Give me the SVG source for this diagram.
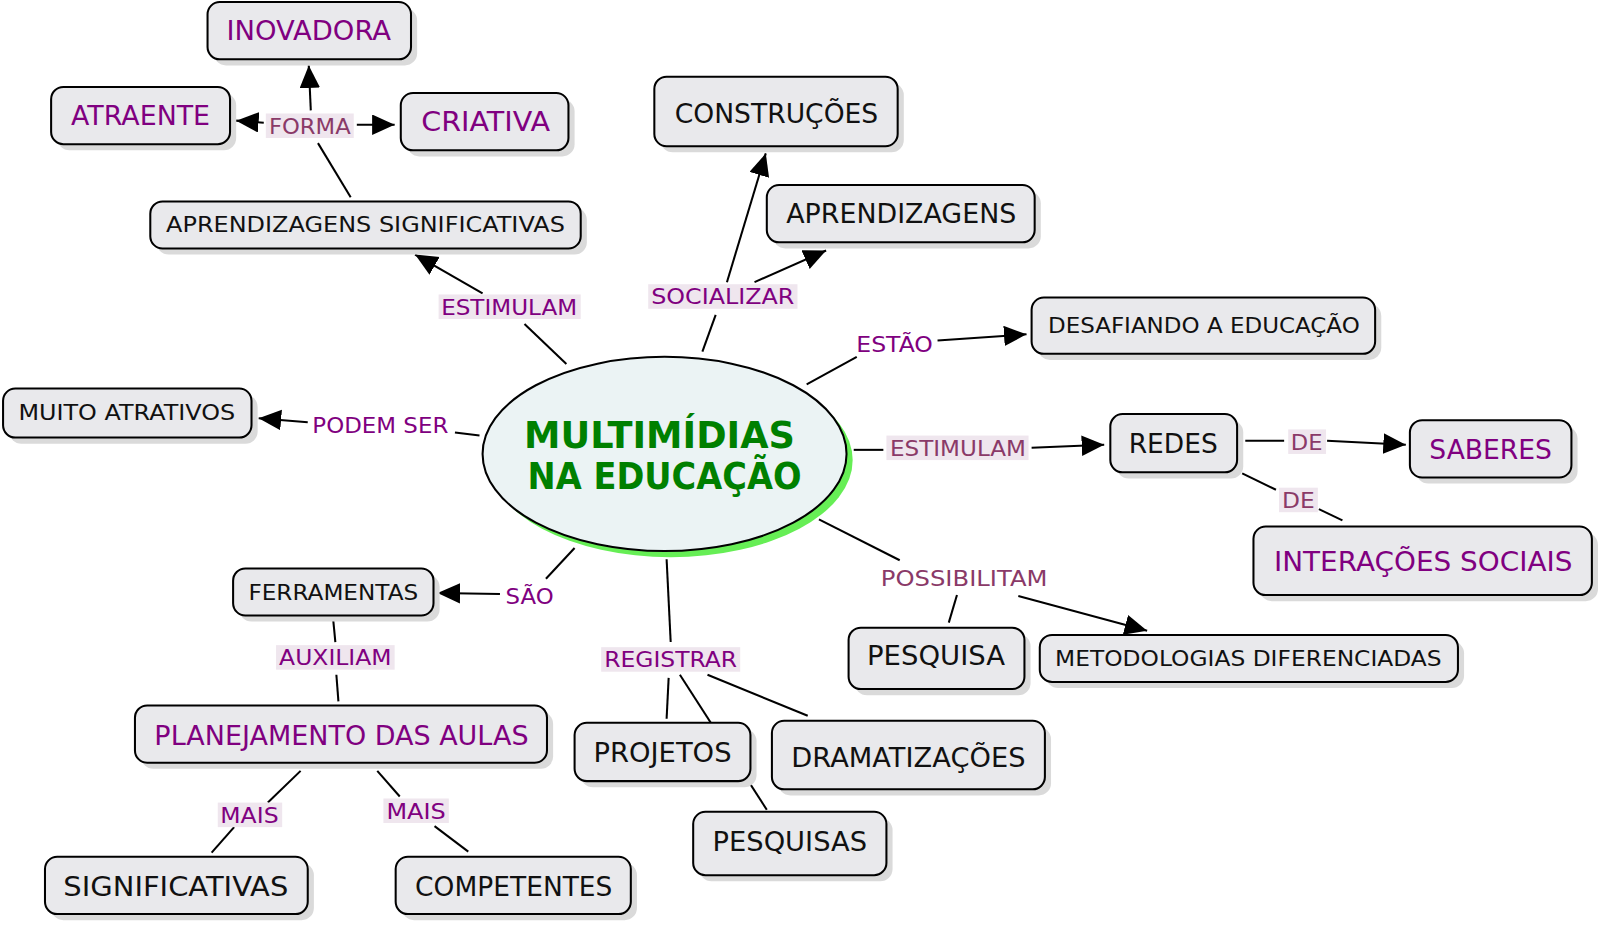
<svg xmlns="http://www.w3.org/2000/svg" width="1600" height="925" viewBox="0 0 1600 925">
<defs>
<marker id="arr" markerUnits="userSpaceOnUse" markerWidth="24" markerHeight="22" refX="22" refY="10" orient="auto"><path d="M0,0 L22,10 L0,20 z" fill="#000"/></marker>
<style>
.box{fill:#e9e9ec;stroke:#000;stroke-width:2}
.sh{fill:#dadada}
.t{font-family:"DejaVu Sans","Verdana",sans-serif;text-anchor:middle}
.big{font-size:26px}
.sm{font-size:21px}
.blk{fill:#111}
.pur{fill:#800080}
.mar{fill:#8a3a68}
.lbl{font-size:21px}
.lbg{fill:#efe6ee}
.ln{stroke:#000;stroke-width:2;fill:none}
.ar{marker-end:url(#arr)}
</style>
</defs>
<rect width="1600" height="925" fill="#fff"/>
<g transform="scale(1.0224)">
<g id="connectors">
<line class="ln" x1="343" y1="193" x2="311" y2="140"/>
<line class="ln ar" x1="304" y1="108" x2="302" y2="64"/>
<line class="ln ar" x1="258" y1="120" x2="231" y2="118"/>
<line class="ln ar" x1="349" y1="122" x2="386" y2="122"/>
<line class="ln" x1="554" y1="356" x2="513" y2="317"/>
<line class="ln ar" x1="472" y1="287" x2="406" y2="249"/>
<line class="ln" x1="687" y1="344" x2="700" y2="308"/>
<line class="ln ar" x1="711" y1="276" x2="749" y2="150"/>
<line class="ln ar" x1="738" y1="276" x2="808" y2="245"/>
<line class="ln" x1="789" y1="376" x2="838" y2="349"/>
<line class="ln ar" x1="917" y1="333" x2="1004" y2="327"/>
<line class="ln" x1="469" y1="426" x2="445" y2="423"/>
<line class="ln ar" x1="301" y1="413" x2="253" y2="409"/>
<line class="ln" x1="835" y1="440" x2="864" y2="440"/>
<line class="ln ar" x1="1009" y1="438" x2="1080" y2="435"/>
<line class="ln" x1="1218" y1="431" x2="1256" y2="431"/>
<line class="ln ar" x1="1298" y1="431" x2="1375" y2="435"/>
<line class="ln" x1="1215" y1="463" x2="1248" y2="479"/>
<line class="ln" x1="1290" y1="498" x2="1313" y2="509"/>
<line class="ln" x1="801" y1="508" x2="880" y2="548"/>
<line class="ln" x1="936" y1="582" x2="928" y2="609"/>
<line class="ln ar" x1="996" y1="583" x2="1122" y2="617"/>
<line class="ln" x1="562" y1="536" x2="534" y2="566"/>
<line class="ln ar" x1="489" y1="581" x2="428" y2="580"/>
<line class="ln" x1="326" y1="607" x2="328" y2="628"/>
<line class="ln" x1="329" y1="660" x2="331" y2="686"/>
<line class="ln" x1="294" y1="754" x2="262" y2="785"/>
<line class="ln" x1="229" y1="809" x2="207" y2="834"/>
<line class="ln" x1="369" y1="754" x2="391" y2="779"/>
<line class="ln" x1="425" y1="808" x2="458" y2="833"/>
<line class="ln" x1="652" y1="547" x2="656" y2="628"/>
<line class="ln" x1="654" y1="663" x2="652" y2="703"/>
<line class="ln" x1="665" y1="660" x2="750" y2="792"/>
<line class="ln" x1="692" y1="660" x2="790" y2="700"/>
</g>
<g id="labels">
<g id="l-forma"><rect class="lbg" x="260" y="111" width="86" height="24"/><text class="t lbl mar" x="303" y="130.7" textLength="80" lengthAdjust="spacingAndGlyphs">FORMA</text></g>
<g id="l-estimulam1"><rect class="lbg" x="429" y="288" width="139" height="24"/><text class="t lbl pur" x="498" y="307.7" textLength="133" lengthAdjust="spacingAndGlyphs">ESTIMULAM</text></g>
<g id="l-socializar"><rect class="lbg" x="634" y="278" width="146" height="24"/><text class="t lbl pur" x="707" y="297.7" textLength="140" lengthAdjust="spacingAndGlyphs">SOCIALIZAR</text></g>
<g id="l-estao"><text class="t lbl pur" x="875" y="344.7" textLength="75" lengthAdjust="spacingAndGlyphs">ESTÃO</text></g>
<g id="l-podem"><text class="t lbl pur" x="372" y="423.7" textLength="133" lengthAdjust="spacingAndGlyphs">PODEM SER</text></g>
<g id="l-estimulam2"><rect class="lbg" x="867" y="426" width="139" height="24"/><text class="t lbl mar" x="937" y="445.7" textLength="133" lengthAdjust="spacingAndGlyphs">ESTIMULAM</text></g>
<g id="l-de1"><rect class="lbg" x="1260" y="420" width="37" height="24"/><text class="t lbl mar" x="1278" y="439.7" textLength="31" lengthAdjust="spacingAndGlyphs">DE</text></g>
<g id="l-de2"><rect class="lbg" x="1251" y="477" width="38" height="24"/><text class="t lbl mar" x="1270" y="496.7" textLength="32" lengthAdjust="spacingAndGlyphs">DE</text></g>
<g id="l-possibilitam"><text class="t lbl mar" x="943" y="572.7" textLength="163" lengthAdjust="spacingAndGlyphs">POSSIBILITAM</text></g>
<g id="l-sao"><text class="t lbl pur" x="518" y="590.7" textLength="47" lengthAdjust="spacingAndGlyphs">SÃO</text></g>
<g id="l-registrar"><rect class="lbg" x="588" y="633" width="136" height="24"/><text class="t lbl pur" x="656" y="652.7" textLength="130" lengthAdjust="spacingAndGlyphs">REGISTRAR</text></g>
<g id="l-auxiliam"><rect class="lbg" x="270" y="631" width="116" height="24"/><text class="t lbl pur" x="328" y="650.7" textLength="110" lengthAdjust="spacingAndGlyphs">AUXILIAM</text></g>
<g id="l-mais1"><rect class="lbg" x="213" y="785" width="63" height="24"/><text class="t lbl pur" x="244" y="804.7" textLength="57" lengthAdjust="spacingAndGlyphs">MAIS</text></g>
<g id="l-mais2"><rect class="lbg" x="375" y="781" width="64" height="24"/><text class="t lbl pur" x="407" y="800.7" textLength="58" lengthAdjust="spacingAndGlyphs">MAIS</text></g>
</g>
<g id="n-center">
<ellipse cx="656" cy="450" rx="178" ry="95" fill="#66ee55"/>
<ellipse cx="650" cy="444" rx="178" ry="95" fill="#ebf3f4" stroke="#000" stroke-width="2"/>
<text class="t" x="645" y="438.5" font-size="37" font-weight="bold" fill="#008000" textLength="265" lengthAdjust="spacingAndGlyphs">MULTIMÍDIAS</text>
<text class="t" x="650" y="478.5" font-size="37" font-weight="bold" fill="#008000" textLength="268" lengthAdjust="spacingAndGlyphs">NA EDUCAÇÃO</text>
</g>
<g id="n-inovadora"><rect class="sh" x="209" y="8" width="199" height="56" rx="12"/><rect class="box" x="203" y="2" width="199" height="56" rx="12"/><text class="t big pur" x="302" y="39.5" textLength="161" lengthAdjust="spacingAndGlyphs">INOVADORA</text></g>
<g id="n-atraente"><rect class="sh" x="56" y="91" width="175" height="56" rx="12"/><rect class="box" x="50" y="85" width="175" height="56" rx="12"/><text class="t big pur" x="137.5" y="122.5" textLength="136" lengthAdjust="spacingAndGlyphs">ATRAENTE</text></g>
<g id="n-criativa"><rect class="sh" x="398" y="97" width="164" height="56" rx="12"/><rect class="box" x="392" y="91" width="164" height="56" rx="12"/><text class="t big pur" x="475" y="128.5" textLength="126" lengthAdjust="spacingAndGlyphs">CRIATIVA</text></g>
<g id="n-aprsig"><rect class="sh" x="153" y="203" width="421" height="46" rx="12"/><rect class="box" x="147" y="197" width="421" height="46" rx="12"/><text class="t sm blk" x="357.5" y="226.7" textLength="390" lengthAdjust="spacingAndGlyphs">APRENDIZAGENS SIGNIFICATIVAS</text></g>
<g id="n-construcoes"><rect class="sh" x="646" y="81" width="238" height="68" rx="12"/><rect class="box" x="640" y="75" width="238" height="68" rx="12"/><text class="t big blk" x="759.5" y="120.5" textLength="199" lengthAdjust="spacingAndGlyphs">CONSTRUÇÕES</text></g>
<g id="n-aprendizagens"><rect class="sh" x="756" y="187" width="262" height="56" rx="12"/><rect class="box" x="750" y="181" width="262" height="56" rx="12"/><text class="t big blk" x="881.5" y="218.5" textLength="225" lengthAdjust="spacingAndGlyphs">APRENDIZAGENS</text></g>
<g id="n-desafiando"><rect class="sh" x="1015" y="297" width="336" height="55" rx="12"/><rect class="box" x="1009" y="291" width="336" height="55" rx="12"/><text class="t sm blk" x="1177.5" y="326" textLength="305" lengthAdjust="spacingAndGlyphs">DESAFIANDO A EDUCAÇÃO</text></g>
<g id="n-muito"><rect class="sh" x="9" y="386" width="243" height="48" rx="12"/><rect class="box" x="3" y="380" width="243" height="48" rx="12"/><text class="t sm blk" x="124" y="411" textLength="212" lengthAdjust="spacingAndGlyphs">MUITO ATRATIVOS</text></g>
<g id="n-redes"><rect class="sh" x="1092" y="411" width="124" height="57" rx="12"/><rect class="box" x="1086" y="405" width="124" height="57" rx="12"/><text class="t big blk" x="1147.5" y="443.5" textLength="87" lengthAdjust="spacingAndGlyphs">REDES</text></g>
<g id="n-saberes"><rect class="sh" x="1385" y="417" width="158" height="56" rx="12"/><rect class="box" x="1379" y="411" width="158" height="56" rx="12"/><text class="t big pur" x="1458" y="448.5" textLength="120" lengthAdjust="spacingAndGlyphs">SABERES</text></g>
<g id="n-interacoes"><rect class="sh" x="1232" y="521" width="331" height="67" rx="12"/><rect class="box" x="1226" y="515" width="331" height="67" rx="12"/><text class="t big pur" x="1392" y="558.5" textLength="292" lengthAdjust="spacingAndGlyphs">INTERAÇÕES SOCIAIS</text></g>
<g id="n-pesquisa"><rect class="sh" x="836" y="620" width="172" height="60" rx="12"/><rect class="box" x="830" y="614" width="172" height="60" rx="12"/><text class="t big blk" x="915.5" y="650.5" textLength="135" lengthAdjust="spacingAndGlyphs">PESQUISA</text></g>
<g id="n-metodologias"><rect class="sh" x="1023" y="627" width="409" height="46" rx="12"/><rect class="box" x="1017" y="621" width="409" height="46" rx="12"/><text class="t sm blk" x="1221" y="651" textLength="378" lengthAdjust="spacingAndGlyphs">METODOLOGIAS DIFERENCIADAS</text></g>
<g id="n-ferramentas"><rect class="sh" x="234" y="562" width="196" height="46" rx="12"/><rect class="box" x="228" y="556" width="196" height="46" rx="12"/><text class="t sm blk" x="326" y="587" textLength="166" lengthAdjust="spacingAndGlyphs">FERRAMENTAS</text></g>
<g id="n-planejamento"><rect class="sh" x="138" y="696" width="403" height="56" rx="12"/><rect class="box" x="132" y="690" width="403" height="56" rx="12"/><text class="t big pur" x="334" y="728.5" textLength="366" lengthAdjust="spacingAndGlyphs">PLANEJAMENTO DAS AULAS</text></g>
<g id="n-significativas"><rect class="sh" x="50" y="844" width="257" height="56" rx="12"/><rect class="box" x="44" y="838" width="257" height="56" rx="12"/><text class="t big blk" x="172" y="876.5" textLength="220" lengthAdjust="spacingAndGlyphs">SIGNIFICATIVAS</text></g>
<g id="n-competentes"><rect class="sh" x="393" y="844" width="230" height="56" rx="12"/><rect class="box" x="387" y="838" width="230" height="56" rx="12"/><text class="t big blk" x="502.5" y="876.5" textLength="193" lengthAdjust="spacingAndGlyphs">COMPETENTES</text></g>
<g id="n-projetos"><rect class="sh" x="568" y="713" width="172" height="57" rx="12"/><rect class="box" x="562" y="707" width="172" height="57" rx="12"/><text class="t big blk" x="648" y="745.5" textLength="135" lengthAdjust="spacingAndGlyphs">PROJETOS</text></g>
<g id="n-dramatizacoes"><rect class="sh" x="761" y="711" width="267" height="67" rx="12"/><rect class="box" x="755" y="705" width="267" height="67" rx="12"/><text class="t big blk" x="888.5" y="750.5" textLength="229" lengthAdjust="spacingAndGlyphs">DRAMATIZAÇÕES</text></g>
<g id="n-pesquisas"><rect class="sh" x="684" y="800" width="189" height="62" rx="12"/><rect class="box" x="678" y="794" width="189" height="62" rx="12"/><text class="t big blk" x="772.5" y="832.5" textLength="151" lengthAdjust="spacingAndGlyphs">PESQUISAS</text></g>
</g>
</svg>
